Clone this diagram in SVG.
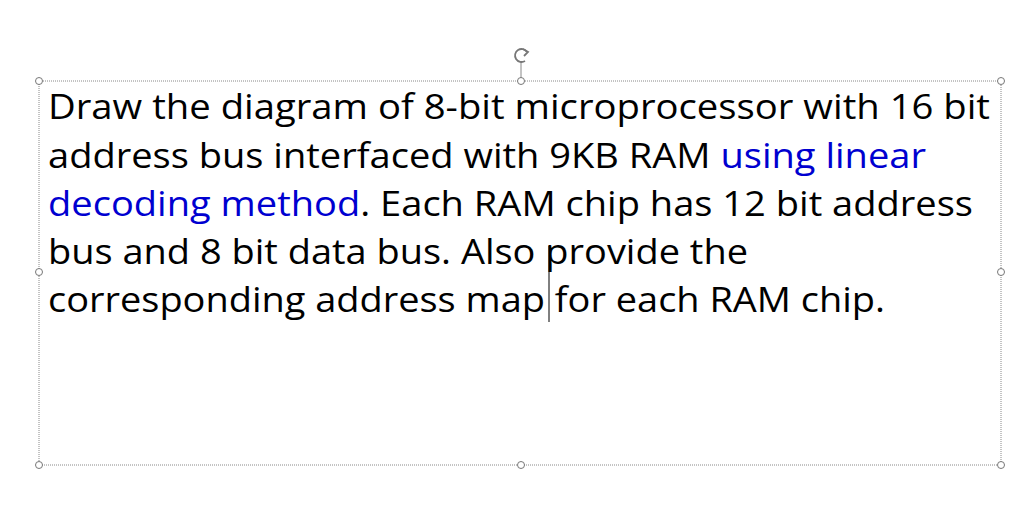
<svg xmlns="http://www.w3.org/2000/svg" width="1024" height="525" viewBox="0 0 1024 525">
<style>
.t{font-family:"Open Sans","Liberation Sans",sans-serif;font-size:34px;fill:#000}
.b{fill:#0000d0}
.h{fill:#fff;stroke:#777;stroke-width:1}
</style>
<rect width="1024" height="525" fill="#fff"/>
<rect x="39" y="81" width="962" height="384" fill="none" stroke="#888" stroke-width="1" stroke-dasharray="1,1"/>
<line x1="521" y1="63" x2="521" y2="81" stroke="#888"/>
<g fill="none" stroke="#777" stroke-width="1.8">
<path d="M527 52 A6.5 6.5 0 1 0 525 61"/>
<path d="M523 49 L528 52 L524 56"/>
</g>
<circle class="h" cx="39" cy="81" r="3.5"/>
<circle class="h" cx="521" cy="81" r="3.5"/>
<circle class="h" cx="1001" cy="81" r="3.5"/>
<circle class="h" cx="39" cy="272" r="3.5"/>
<circle class="h" cx="1001" cy="272" r="3.5"/>
<circle class="h" cx="39" cy="465" r="3.5"/>
<circle class="h" cx="521" cy="465" r="3.5"/>
<circle class="h" cx="1001" cy="465" r="3.5"/>
<text class="t" x="48" y="119" textLength="942" lengthAdjust="spacingAndGlyphs">Draw the diagram of 8-bit microprocessor with 16 bit</text>
<text class="t" x="48" y="168" textLength="878" lengthAdjust="spacingAndGlyphs">address bus interfaced with 9KB RAM <tspan class="b">using linear</tspan></text>
<text class="t" x="48" y="216" textLength="925" lengthAdjust="spacingAndGlyphs"><tspan class="b">decoding method</tspan>. Each RAM chip has 12 bit address</text>
<text class="t" x="48" y="264" textLength="700" lengthAdjust="spacingAndGlyphs">bus and 8 bit data bus. Also provide the</text>
<text class="t" x="48" y="312" textLength="837" lengthAdjust="spacingAndGlyphs">corresponding address map for each RAM chip.</text>
<line x1="549" y1="246" x2="549" y2="322" stroke="#000" stroke-width="1"/>
</svg>
